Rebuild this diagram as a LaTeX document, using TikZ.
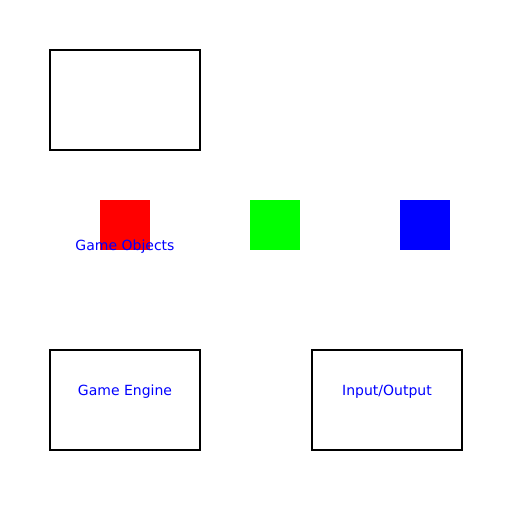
\documentclass[tikz,border=0pt]{standalone}
\usepackage{fontspec}
\setmainfont{DejaVu Sans}
\begin{document}
\begin{tikzpicture}[x=1pt,y=-1pt,
  box/.style={draw=black,line width=2pt},
  lbl/.style={text=blue,font=\fontsize{14}{16}\selectfont,inner sep=0pt,anchor=center}]
\useasboundingbox (0,0) rectangle (512,512);
\draw[box] (50,50) rectangle (200,150);
\fill[red] (100,200) rectangle (150,250);
\fill[green] (250,200) rectangle (300,250);
\fill[blue] (400,200) rectangle (450,250);
\node[lbl] (objects) at (125,247) {Game Objects};
\draw[box] (50,350) rectangle (200,450);
\node[lbl] (engine) at (125,392) {Game Engine};
\draw[box] (312,350) rectangle (462,450);
\node[lbl] (io) at (387,392) {Input/Output};
\end{tikzpicture}
\end{document}
